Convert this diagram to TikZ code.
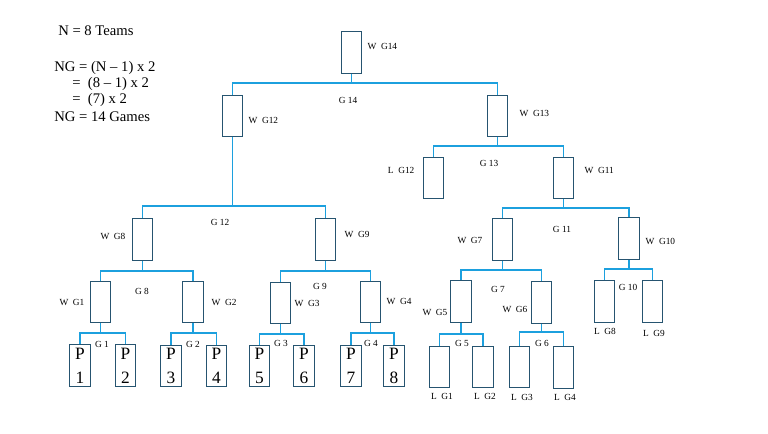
\documentclass[tikz,border=0pt]{standalone}
\usepackage{fontspec}
\setmainfont{Liberation Serif}
\usetikzlibrary{positioning}
\definecolor{boxline}{RGB}{38,84,112}
\definecolor{busline}{RGB}{28,160,222}

\begin{document}
\begin{tikzpicture}[
  x=0.75pt, y=-0.75pt,
  slot/.style={draw=boxline, line width=0.9pt, minimum width=15.5pt, minimum height=31pt, inner sep=0pt},
  team/.style={slot, align=center, font=\fontsize{13}{18}\selectfont},
  tag/.style={font=\fontsize{7}{8}\selectfont, inner sep=1pt},
  note/.style={anchor=base west, font=\fontsize{11}{13}\selectfont, inner sep=0pt},
  link/.style={draw=busline, line width=1.1pt}
]
\useasboundingbox (0,0) rectangle (768,433);

% formula
\node[note] (teams) at (58,35) {N = 8 Teams};
\node[note] (ng1) at (54,71) {NG = (N – 1) x 2};
\node[note] (ng2) at (72,87) {=~~(8 – 1) x 2};
\node[note] (ng3) at (72,103) {=~~(7) x 2};
\node[note] (ng4) at (54,121) {NG = 14 Games};

% winners side
\node[slot] (wg14) at (351.5,52.5) {};
\node[slot] (wg12) at (232.5,116) {};
\node[slot] (wg13) at (497.5,116) {};
\node[slot] (lg12) at (433.5,178) {};
\node[slot] (wg11) at (563.5,178) {};
\node[slot] (wg8) at (142.5,239.5) {};
\node[slot] (wg9) at (325.5,239.5) {};
\node[slot] (wg7) at (502.5,239.5) {};
\node[slot] (wg10) at (629,238.5) {};
\node[slot] (wg1) at (100.5,302) {};
\node[slot] (wg2) at (193,302) {};
\node[slot] (wg3) at (280.5,303) {};
\node[slot] (wg4) at (370.5,302) {};
\node[slot] (wg5) at (461,301.5) {};
\node[slot] (wg6) at (541.5,302.5) {};
\node[slot] (lg8) at (604.5,301.5) {};
\node[slot] (lg9) at (652.5,301.5) {};

% players
\node[team] (p1) at (80,365.5) {P\\1};
\node[team] (p2) at (125.5,365.5) {P\\2};
\node[team] (p3) at (171,366) {P\\3};
\node[team] (p4) at (216.5,366) {P\\4};
\node[team] (p5) at (259.5,366) {P\\5};
\node[team] (p6) at (304,366) {P\\6};
\node[team] (p7) at (351,366) {P\\7};
\node[team] (p8) at (394,366) {P\\8};

% losers of first round
\node[slot] (lg1) at (439.5,367) {};
\node[slot] (lg2) at (483,367) {};
\node[slot] (lg3) at (519.5,367) {};
\node[slot] (lg4) at (563.5,367.5) {};

% brackets: parent/left/right/bus level
\foreach \p/\a/\b/\y in {wg14/wg12/wg13/83, wg13/lg12/wg11/146, wg12/wg8/wg9/206,
    wg11/wg7/wg10/208, wg8/wg1/wg2/271, wg9/wg3/wg4/271, wg7/wg5/wg6/270,
    wg10/lg8/lg9/269, wg1/p1/p2/333, wg2/p3/p4/333, wg3/p5/p6/334,
    wg4/p7/p8/333, wg5/lg1/lg2/334, wg6/lg3/lg4/332} {
  \draw[link] (\a.north) |- (\p.south |- 0,\y) -| (\b.north);
  \draw[link] (\p.south) -- (\p.south |- 0,\y);
}

% box tags
\node[tag, anchor=west] (twg14) at (366,46) {W~~G14};
\node[tag, anchor=west] (twg12) at (247,120) {W~~G12};
\node[tag, anchor=west] (twg13) at (518,113) {W~~G13};
\node[tag, anchor=east] (tlg12) at (416,170) {L~~G12};
\node[tag, anchor=west] (twg11) at (583,170) {W~~G11};
\node[tag, anchor=east] (twg8) at (127,236) {W~~G8};
\node[tag, anchor=west] (twg9) at (343,234) {W~~G9};
\node[tag, anchor=east] (twg7) at (484,240) {W~~G7};
\node[tag, anchor=west] (twg10) at (644,241) {W~~G10};
\node[tag, anchor=east] (twg1) at (86,302) {W~~G1};
\node[tag, anchor=west] (twg2) at (210,302) {W~~G2};
\node[tag, anchor=west] (twg3) at (293,303) {W~~G3};
\node[tag, anchor=west] (twg4) at (385,301) {W~~G4};
\node[tag, anchor=east] (twg5) at (449,312) {W~~G5};
\node[tag, anchor=east] (twg6) at (529,309) {W~~G6};
\node[tag] (tlg8) at (605,331) {L~~G8};
\node[tag] (tlg9) at (654,333) {L~~G9};
\node[tag] (tlg1) at (442,396) {L~~G1};
\node[tag] (tlg2) at (485,396) {L~~G2};
\node[tag] (tlg3) at (522,397) {L~~G3};
\node[tag] (tlg4) at (565,397) {L~~G4};

% game numbers
\node[tag] (g14) at (348,100) {G 14};
\node[tag] (g13) at (489,163) {G 13};
\node[tag] (g12) at (220,222) {G 12};
\node[tag] (g11) at (562,229) {G 11};
\node[tag] (g8) at (142,291) {G 8};
\node[tag] (g9) at (320,286) {G 9};
\node[tag] (g7) at (498,289) {G 7};
\node[tag] (g10) at (628,287) {G 10};
\node[tag] (g1) at (102,344) {G 1};
\node[tag] (g2) at (193,344) {G 2};
\node[tag] (g3) at (281,343) {G 3};
\node[tag] (g4) at (371,343) {G 4};
\node[tag] (g5) at (462,343) {G 5};
\node[tag] (g6) at (542,343) {G 6};
\end{tikzpicture}
\end{document}
